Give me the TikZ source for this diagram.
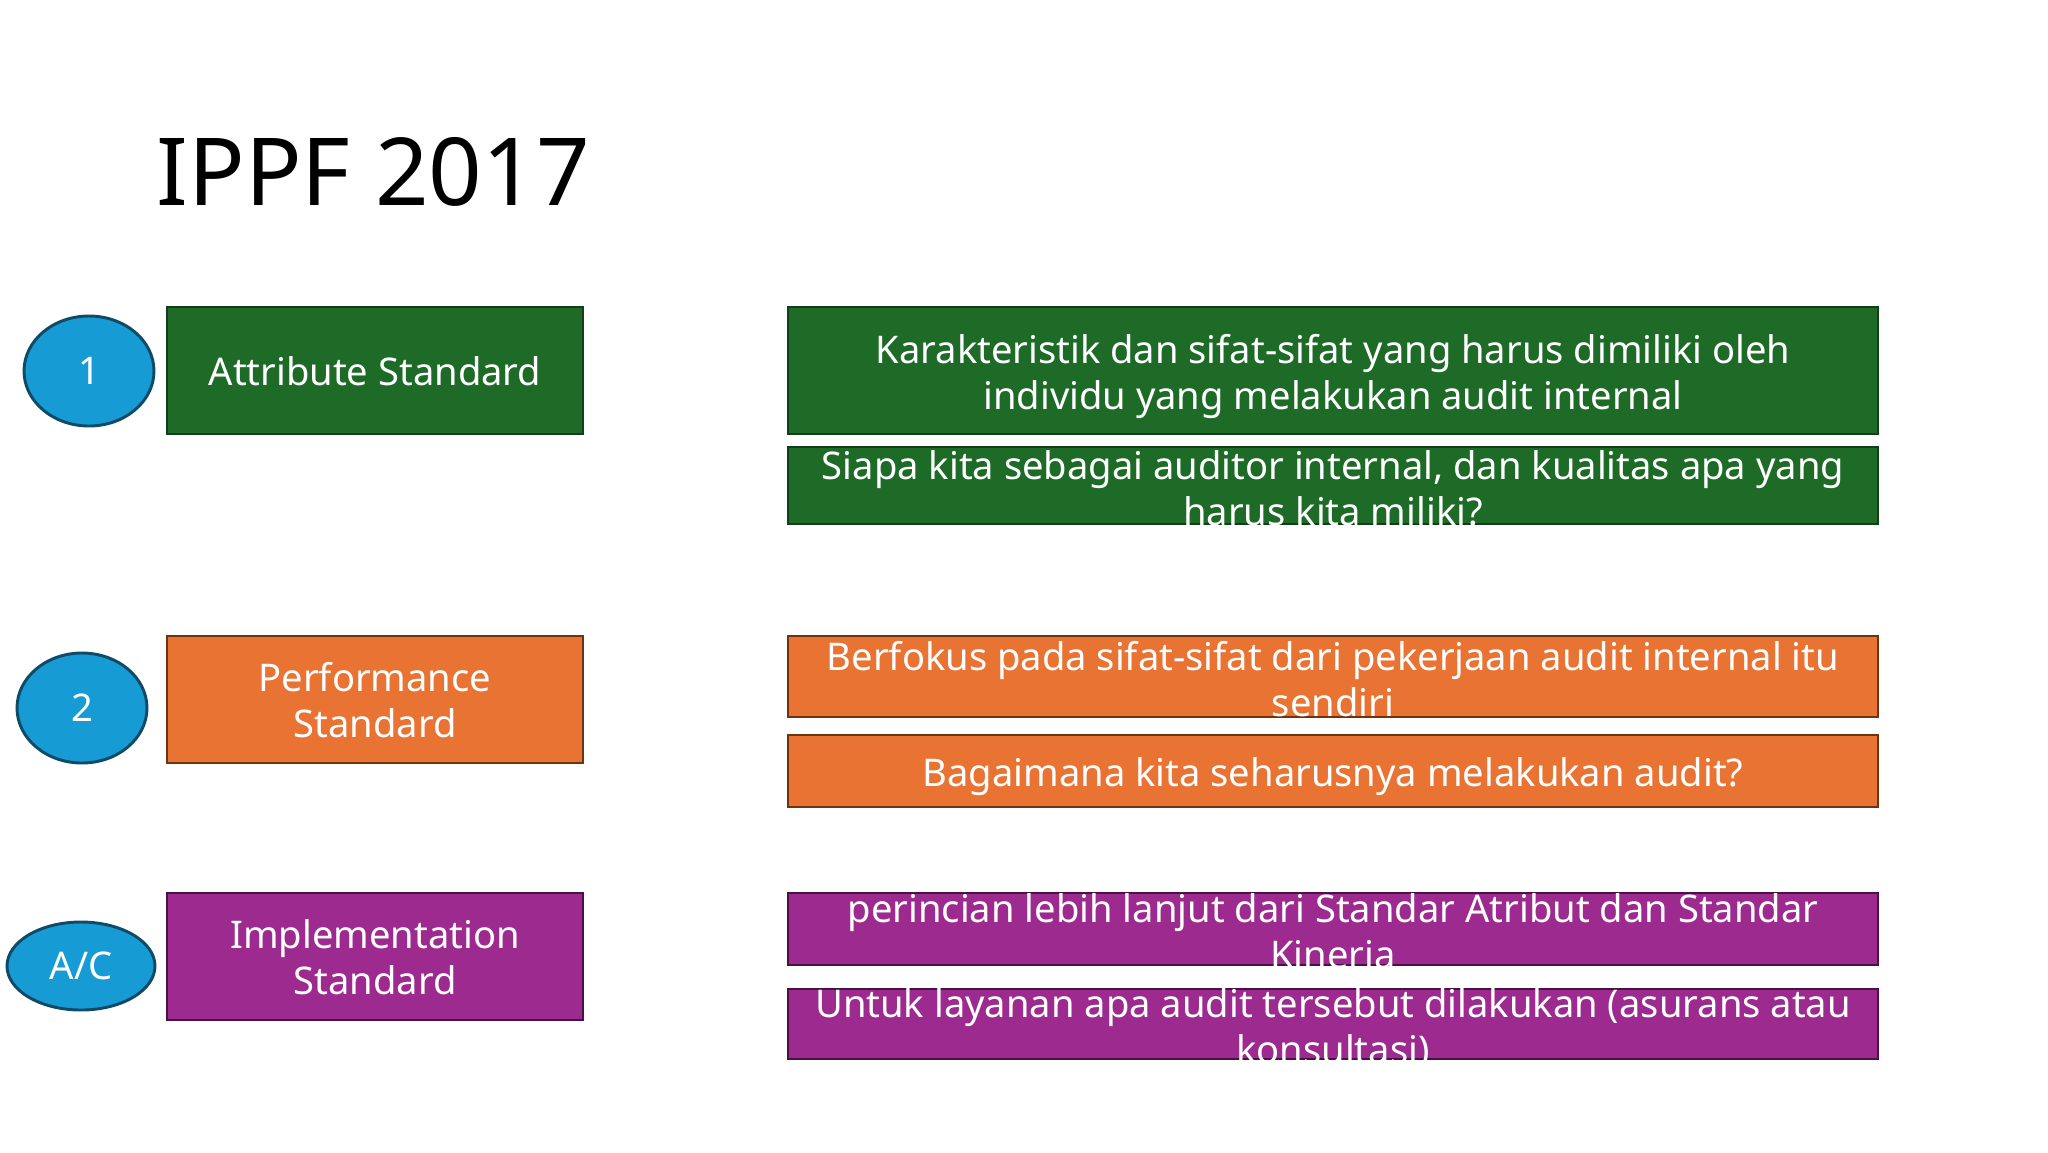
\documentclass[tikz,border=0pt]{standalone}
\usepackage{fontspec}
\setmainfont{Noto Sans}
\usetikzlibrary{shapes.geometric}
\definecolor{gfill}{HTML}{1D6B27}
\definecolor{gline}{HTML}{143D1A}
\definecolor{ofill}{HTML}{E87332}
\definecolor{oline}{HTML}{6E3310}
\definecolor{pfill}{HTML}{9C2A8F}
\definecolor{pline}{HTML}{4A1244}
\definecolor{cfill}{HTML}{169BD5}
\definecolor{cline}{HTML}{0F4A66}
\tikzset{
  box/.style={rectangle, draw, line width=1.1pt, inner sep=0pt},
  gbox/.style={box, fill=gfill, draw=gline},
  obox/.style={box, fill=ofill, draw=oline},
  pbox/.style={box, fill=pfill, draw=pline},
  txt/.style={text=white, align=center, inner sep=0pt,
    font=\fontsize{14.3pt}{17.25pt}\selectfont},
  leftw/.style={minimum width=416*0.375pt, minimum height=127*0.375pt},
  rightw/.style={minimum width=1090*0.375pt},
  circ/.style={ellipse, draw=cline, fill=cfill, line width=1.1pt, text=white,
    inner sep=0pt, font=\fontsize{14.3pt}{17.25pt}\selectfont},
}
\begin{document}
\begin{tikzpicture}[x=0.375pt, y=-0.375pt]
\useasboundingbox[fill=white] (0,0) rectangle (2048,1152);
\node[anchor=base west, inner sep=0pt, font=\fontsize{35.2pt}{40pt}\selectfont] (title) at (156,205) {IPPF 2017};

\node[circ, minimum width=130*0.375pt, minimum height=110*0.375pt] (c1) at (89,371) {1};
\node[circ, minimum width=130*0.375pt, minimum height=110*0.375pt] (c2) at (82,708) {2};
\node[circ, minimum width=148*0.375pt, minimum height=88*0.375pt] (c3) at (81,966) {A/C};

\node[gbox, leftw] (attr) at (375,370.5) {};
\node[txt, yshift=-0.4pt] (attrt) at (attr) {Attribute Standard};
\node[obox, leftw] (perf) at (375,699.5) {};
\node[txt, yshift=-0.4pt] (perft) at (perf) {Performance\\Standard};
\node[pbox, leftw] (impl) at (375,956.5) {};
\node[txt, yshift=-0.4pt] (implt) at (impl) {Implementation\\Standard};

\node[gbox, rightw, minimum height=127*0.375pt] (g1) at (1333,370.5) {};
\node[txt, yshift=-2.2pt] (g1t) at (g1) {Karakteristik dan sifat-sifat yang harus dimiliki oleh\\individu yang melakukan audit internal};
\node[gbox, rightw, minimum height=77*0.375pt] (g2) at (1333,485.5) {};
\node[txt, yshift=-1.2pt] (g2t) at (g2) {Siapa kita sebagai auditor internal, dan kualitas apa yang\\harus kita miliki?};
\node[obox, rightw, minimum height=81*0.375pt] (o1) at (1333,676.5) {};
\node[txt, yshift=-0.9pt] (o1t) at (o1) {Berfokus pada sifat-sifat dari pekerjaan audit internal itu\\sendiri};
\node[obox, rightw, minimum height=72*0.375pt] (o2) at (1333,771) {};
\node[txt, yshift=-2.2pt] (o2t) at (o2) {Bagaimana kita seharusnya melakukan audit?};
\node[pbox, rightw, minimum height=72*0.375pt] (p1) at (1333,929) {};
\node[txt, yshift=-0.9pt] (p1t) at (p1) {perincian lebih lanjut dari Standar Atribut dan Standar\\Kineria};
\node[pbox, rightw, minimum height=70*0.375pt] (p2) at (1333,1024) {};
\node[txt, yshift=-1.8pt] (p2t) at (p2) {Untuk layanan apa audit tersebut dilakukan (asurans atau\\konsultasi)};
\end{tikzpicture}
\end{document}
